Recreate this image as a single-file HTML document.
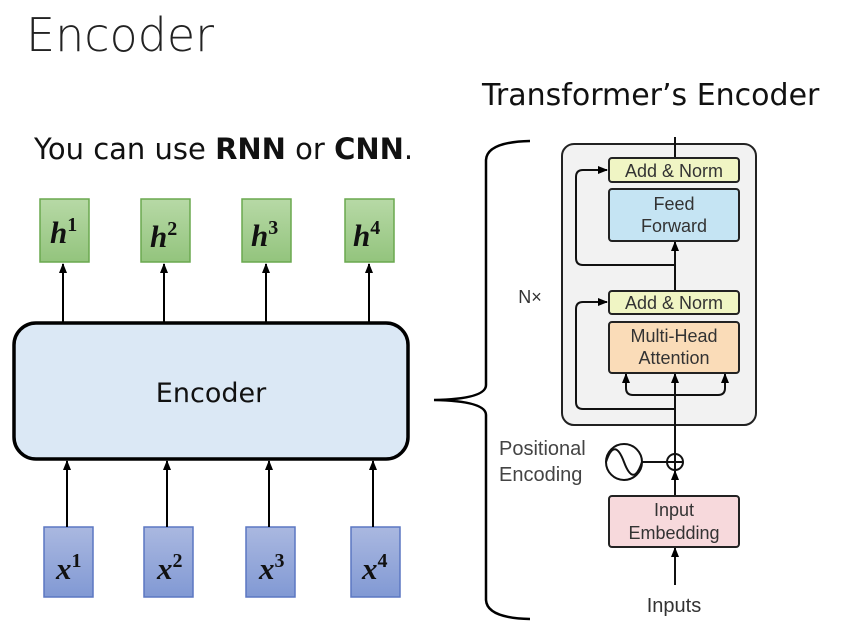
<!DOCTYPE html>
<html><head><style>
body{margin:0;width:848px;height:637px;background:#fff;overflow:hidden;position:relative;font-family:"Liberation Sans",sans-serif}
.t{position:absolute;white-space:nowrap}
</style></head><body>
<div class="t" style="left:26px;top:8px;font-size:46px;font-family:'DejaVu Sans',sans-serif;font-weight:300;color:#222">Encoder</div>
<div class="t" style="left:482px;top:78px;font-size:30px;font-family:'DejaVu Sans',sans-serif;color:#111">Transformer’s Encoder</div>
<div class="t" style="left:34px;top:132px;font-size:29px;font-family:'DejaVu Sans',sans-serif;color:#111">You can use <b>RNN</b> or <b>CNN</b>.</div>
<svg width="848" height="637" style="position:absolute;left:0;top:0">
<defs>
<marker id="a" markerWidth="10" markerHeight="10" refX="9" refY="5" orient="auto" markerUnits="userSpaceOnUse"><path d="M0,1 L10,5 L0,9 Z" fill="#000"/></marker>
<linearGradient id="g" x1="0" y1="0" x2="0" y2="1"><stop offset="0" stop-color="#b7d9a6"/><stop offset="1" stop-color="#93c47d"/></linearGradient>
<linearGradient id="b" x1="0" y1="0" x2="0" y2="1"><stop offset="0" stop-color="#aab8e0"/><stop offset="1" stop-color="#8199d4"/></linearGradient>
</defs>
<g stroke="#6aa84f" fill="url(#g)" stroke-width="1.5">
<rect x="40" y="199" width="49" height="63"/><rect x="141" y="199" width="49" height="63"/><rect x="242" y="199" width="49" height="63"/><rect x="345" y="199" width="49" height="63"/>
</g>
<g stroke="#5b77c2" fill="url(#b)" stroke-width="1.5">
<rect x="44" y="527" width="49" height="70"/><rect x="144" y="527" width="49" height="70"/><rect x="246" y="527" width="49" height="70"/><rect x="351" y="527" width="49" height="70"/>
</g>
<g font-family="Liberation Serif,serif" font-style="italic" font-weight="bold" font-size="31" fill="#111">
<text x="50" y="243">h<tspan font-size="20" dy="-12" font-style="normal">1</tspan></text>
<text x="150" y="247">h<tspan font-size="20" dy="-12" font-style="normal">2</tspan></text>
<text x="251" y="246">h<tspan font-size="20" dy="-12" font-style="normal">3</tspan></text>
<text x="353" y="246">h<tspan font-size="20" dy="-12" font-style="normal">4</tspan></text>
<text x="56" y="579">x<tspan font-size="20" dy="-12" font-style="normal">1</tspan></text>
<text x="157" y="579">x<tspan font-size="20" dy="-12" font-style="normal">2</tspan></text>
<text x="259" y="579">x<tspan font-size="20" dy="-12" font-style="normal">3</tspan></text>
<text x="362" y="579">x<tspan font-size="20" dy="-12" font-style="normal">4</tspan></text>
</g>
<rect x="14" y="323" width="394" height="136" rx="22" fill="#dbe8f5" stroke="#000" stroke-width="3.5"/>
<text x="211" y="402" font-family="DejaVu Sans,sans-serif" font-size="27" text-anchor="middle" fill="#111">Encoder</text>
<g stroke="#000" stroke-width="2" marker-end="url(#a)">
<line x1="63" y1="322" x2="63" y2="264"/><line x1="164" y1="322" x2="164" y2="264"/><line x1="266" y1="322" x2="266" y2="264"/><line x1="369" y1="322" x2="369" y2="264"/>
<line x1="67" y1="527" x2="67" y2="461"/><line x1="167" y1="527" x2="167" y2="461"/><line x1="269" y1="527" x2="269" y2="461"/><line x1="373" y1="527" x2="373" y2="461"/>
</g>
<path d="M530,141 Q487,142 486,160 L486,385 Q486,399 434,400 Q486,401 486,415 L486,600 Q487,618 530,619" fill="none" stroke="#000" stroke-width="2.5"/>
<rect x="562" y="144" width="194" height="281" rx="12" fill="#f2f2f2" stroke="#222" stroke-width="2"/>
<g stroke="#111" stroke-width="2" fill="none">
<line x1="675" y1="137" x2="675" y2="158"/>
<line x1="675" y1="291" x2="675" y2="242" marker-end="url(#a)"/>
<line x1="675" y1="462" x2="675" y2="374" marker-end="url(#a)"/>
<path d="M675,409 L583,409 Q576,409 576,402 L576,309 Q576,302 583,302 L607,302" marker-end="url(#a)"/>
<path d="M675,265 L583,265 Q576,265 576,258 L576,177 Q576,170 583,170 L607,170" marker-end="url(#a)"/>
<path d="M626,385 L626,388 Q626,395 633,395 L718,395 Q725,395 725,388 L725,385" />
<line x1="626" y1="386" x2="626" y2="374" marker-end="url(#a)"/>
<line x1="725" y1="386" x2="725" y2="374" marker-end="url(#a)"/>
<line x1="675" y1="496" x2="675" y2="471" marker-end="url(#a)"/>
<line x1="675" y1="585" x2="675" y2="548" marker-end="url(#a)"/>
<line x1="642" y1="462" x2="667" y2="462"/>
<circle cx="675" cy="462" r="8"/>
<line x1="667" y1="462" x2="683" y2="462"/><line x1="675" y1="454" x2="675" y2="470"/>
<circle cx="624" cy="462" r="18"/>
<path d="M606,462 C612,444 618,446 624,462 C630,478 636,480 642,462"/>
</g>
<g stroke="#222" stroke-width="2">
<rect x="609" y="158" width="130" height="24" rx="3" fill="#f0f5c4"/>
<rect x="609" y="189" width="130" height="52" rx="3" fill="#c5e4f3"/>
<rect x="609" y="291" width="130" height="23" rx="3" fill="#f0f5c4"/>
<rect x="609" y="322" width="130" height="51" rx="3" fill="#fadcb8"/>
<rect x="609" y="496" width="130" height="51" rx="3" fill="#f7d9dc"/>
</g>
<g font-family="Liberation Sans,sans-serif" font-size="18" fill="#333" text-anchor="middle">
<text x="674" y="177">Add &amp; Norm</text>
<text x="674" y="210">Feed</text><text x="674" y="232">Forward</text>
<text x="674" y="309">Add &amp; Norm</text>
<text x="674" y="342">Multi-Head</text><text x="674" y="364">Attention</text>
<text x="674" y="516">Input</text><text x="674" y="539">Embedding</text>
<text x="674" y="612" font-size="20">Inputs</text>
<text x="530" y="303" font-size="18">N×</text>
</g>
<g font-family="Liberation Sans,sans-serif" font-size="20" fill="#444">
<text x="499" y="455">Positional</text><text x="499" y="481">Encoding</text>
</g>
</svg>
</body></html>
